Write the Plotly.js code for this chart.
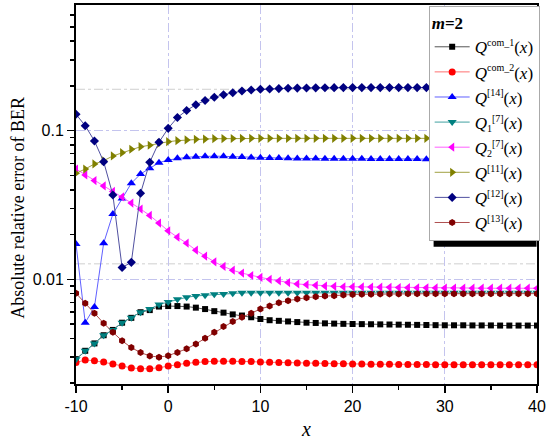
<!DOCTYPE html>
<html>
<head>
<meta charset="utf-8">
<script src="https://cdn.plot.ly/plotly-3.0.1.min.js"></script>
<style>html,body{margin:0;padding:0;background:#fff;}#chart{width:550px;height:442px;}</style>
</head>
<body>
<div id="chart"></div>
<script>
// x values -10 .. 40 step 1
var xs = [];
for (var i = -10; i <= 40; i++) xs.push(i);

var qCom1 = [0.0029,0.0033,0.0037,0.0042,0.00456,0.0051,0.0055,0.0060,0.0062,0.00655,
  0.0066,0.0066,0.00655,0.00644,0.0063,0.0061,0.00596,0.0058,0.0057,0.00555,
  0.0054,0.0053,0.00525,0.0052,0.00515,0.0051,0.00508,0.00505,0.00503,0.00501,
  0.0050,0.00499,0.00498,0.00497,0.00496,0.00495,0.00494,0.00493,0.00492,0.00491,
  0.0049,0.0049,0.0049,0.00489,0.00489,0.00489,0.00488,0.00488,0.00488,0.00488,0.00488];

var qCom2 = [0.00275,0.00286,0.00283,0.00277,0.00269,0.00261,0.00253,0.0025,0.0025,0.00254,
  0.00261,0.00266,0.00272,0.00276,0.0028,0.00281,0.00281,0.00281,0.0028,0.00279,
  0.00277,0.00276,0.00275,0.00274,0.00273,0.00272,0.00272,0.00271,0.0027,0.0027,
  0.00269,0.00269,0.00268,0.00268,0.00268,0.00267,0.00267,0.00267,0.00267,0.00266,
  0.00266,0.00266,0.00266,0.00266,0.00266,0.00266,0.00266,0.00266,0.00266,0.00266,0.00266];

var q14 = [0.0173,0.0051,0.0065,0.0175,0.0275,0.0349,0.0443,0.0511,0.0558,0.0609,
  0.0635,0.0652,0.0662,0.0668,0.0672,0.0674,0.0672,0.0668,0.0665,0.0661,
  0.0658,0.0656,0.0654,0.0652,0.0651,0.065,0.0649,0.0648,0.0648,0.0648,
  0.0647,0.0647,0.0646,0.0646,0.0645,0.0645,0.0644,0.0644,0.0643,0.0643,
  0.0642,0.0642,0.0642,0.0642,0.0642,0.0642,0.0642,0.0642,0.0642,0.0642,0.0642];

var q1_7 = [0.0029,0.0033,0.0037,0.0042,0.00456,0.0051,0.0055,0.0060,0.0063,0.00675,
  0.00703,0.00733,0.00756,0.00772,0.0078,0.00792,0.00796,0.00805,0.0081,0.0081,
  0.0081,0.0081,0.0081,0.0081,0.0081,0.0081,0.0081,0.0081,0.0081,0.0081,
  0.0081,0.0081,0.0081,0.0081,0.0081,0.0081,0.0081,0.0081,0.0081,0.0081,
  0.0081,0.0081,0.0081,0.0081,0.0081,0.0081,0.0081,0.0081,0.0081,0.0081,0.0081];

var q2_7 = [0.0552,0.0504,0.0462,0.0425,0.039,0.0358,0.0326,0.0297,0.0269,0.0239,
  0.0212,0.0192,0.0175,0.0157,0.0143,0.0131,0.0122,0.0115,0.011,0.0106,
  0.0103,0.01,0.00975,0.0095,0.0093,0.0092,0.0091,0.009,0.00897,0.0089,
  0.0089,0.00888,0.00886,0.00884,0.00882,0.0088,0.00878,0.00876,0.00875,0.00874,
  0.00873,0.00872,0.00871,0.0087,0.0087,0.0087,0.0087,0.0087,0.0087,0.0087,0.0087];

var q11 = [0.0517,0.0552,0.0597,0.0628,0.0676,0.0711,0.075,0.078,0.0798,0.0823,
  0.0843,0.0857,0.0866,0.0875,0.0879,0.0883,0.0885,0.0886,0.0887,0.0888,
  0.0888,0.0888,0.0888,0.0888,0.0888,0.0888,0.0888,0.0888,0.0888,0.0888,
  0.0888,0.0888,0.0888,0.0888,0.0888,0.0888,0.0888,0.0888,0.0888,0.0888,
  0.0888,0.0888,0.0888,0.0888,0.0888,0.0888,0.0888,0.0888,0.0888,0.0888,0.0888];

var q12 = [0.129,0.108,0.0853,0.0618,0.0369,0.012,0.013,0.0379,0.0613,0.0836,
  0.1037,0.1227,0.1368,0.1496,0.1596,0.168,0.1746,0.180,0.185,0.188,
  0.190,0.191,0.192,0.193,0.1935,0.194,0.1943,0.1946,0.1948,0.195,
  0.195,0.195,0.195,0.195,0.195,0.195,0.195,0.195,0.195,0.195,
  0.195,0.195,0.195,0.195,0.195,0.195,0.195,0.195,0.195,0.195,0.195];

var q13 = [0.00805,0.00689,0.0059,0.00506,0.0044,0.00385,0.00347,0.00321,0.00305,0.00299,
  0.00306,0.00321,0.0034,0.00367,0.00401,0.0044,0.0048,0.00519,0.00555,0.0059,
  0.0063,0.0066,0.00696,0.00718,0.00737,0.00752,0.00762,0.0077,0.00775,0.00784,
  0.0079,0.00792,0.00794,0.00795,0.00796,0.00797,0.00798,0.00798,0.00799,0.00799,
  0.008,0.008,0.008,0.008,0.008,0.008,0.008,0.008,0.008,0.008,0.008];

function sup(t) { return '<sup><span style="font-size:10px">' + t + '</span></sup>'; }
function sub(t) { return '<sub><span style="font-size:10px">' + t + '</span></sub>'; }
var seriesNames = [
  '<i>Q</i>' + sup('com_1') + '(<i>x</i>)',
  '<i>Q</i>' + sup('com_2') + '(<i>x</i>)',
  '<i>Q</i>' + sup('[14]') + '(<i>x</i>)',
  '<i>Q</i>' + sub('1') + sup('[7]') + '(<i>x</i>)',
  '<i>Q</i>' + sub('2') + sup('[7]') + '(<i>x</i>)',
  '<i>Q</i>' + sup('[11]') + '(<i>x</i>)',
  '<i>Q</i>' + sup('[12]') + '(<i>x</i>)',
  '<i>Q</i>' + sup('[13]') + '(<i>x</i>)'
];
var seriesData = [qCom1, qCom2, q14, q1_7, q2_7, q11, q12, q13];
var markerColors = ['#000000','#ff0000','#0000ff','#008080','#ff00ff','#808000','#000080','#800000'];
var lineColors = ['#555555','#ff7070','#6060ff','#40a0a0','#ff60ff','#a0a040','#5050a0','#b05050'];
var symbols = ['square','circle','triangle-up','triangle-down','triangle-left','triangle-right','diamond','hexagon'];
var sizes = [6,7,8,8,8,8,7,7];

var xTickVals = [-10, 0, 10, 20, 30, 40];
var xTickText = ['-10', '0', '10', '20', '30', '40'];
var yTickVals = [0.01, 0.1];
var yTickText = ['0.01', '0.1'];
var yMinorVals = [0.002,0.003,0.004,0.005,0.006,0.007,0.008,0.009,0.02,0.03,0.04,0.05,0.06,0.07,0.08,0.09,0.2,0.3,0.4,0.5,0.6];
var refLines = [0.19, 0.0127];

var traces = seriesData.map(function (d, k) {
  return {
    x: xs, y: d, name: seriesNames[k], type: 'scatter', mode: 'lines+markers',
    line: {color: lineColors[k], width: 1},
    marker: {symbol: symbols[k], size: sizes[k], color: markerColors[k], line: {width: 0}}
  };
});

var shapes = refLines.map(function (v) {
  return {type: 'line', xref: 'paper', x0: 0, x1: 1, yref: 'y', y0: v, y1: v,
    line: {color: '#cfcfcf', width: 1, dash: 'dashdot'}, layer: 'below'};
});
// legend shadow (paper coords: plot area 76..537.5 x, 5..384 y)
shapes.push({type: 'rect', xref: 'paper', yref: 'paper', x0: 0.7757, x1: 0.999, y0: 0.362, y1: 0.984,
  fillcolor: '#000000', line: {width: 0}, layer: 'above'});

var layout = {
  width: 550, height: 442,
  margin: {l: 76, r: 12.5, t: 5, b: 58},
  paper_bgcolor: '#ffffff', plot_bgcolor: '#ffffff',
  showlegend: true,
  xaxis: {
    range: [-10, 40], tickmode: 'array', tickvals: xTickVals, ticktext: xTickText,
    ticks: 'outside', ticklen: 7, tickwidth: 1.5, tickcolor: '#000',
    minor: {dtick: 5, tick0: 0, ticks: 'outside', ticklen: 4, tickwidth: 1.5, tickcolor: '#000', showgrid: false},
    showline: true, linecolor: '#000', linewidth: 2, mirror: true,
    showgrid: true, gridcolor: '#c4c4ee', griddash: 'dashdot', gridwidth: 1,
    zeroline: false,
    tickfont: {family: 'Liberation Sans, Arial, sans-serif', size: 16, color: '#000'},
    title: {text: '<i>x</i>', font: {family: 'Liberation Serif, Times New Roman, serif', size: 20, color: '#000'}, standoff: 8}
  },
  yaxis: {
    type: 'log', range: [-2.705, -0.154],
    tickmode: 'array', tickvals: yTickVals, ticktext: yTickText,
    ticks: 'outside', ticklen: 7, tickwidth: 1.5, tickcolor: '#000',
    minor: {tickmode: 'array', tickvals: yMinorVals, ticks: 'outside', ticklen: 4, tickwidth: 1.5, tickcolor: '#000', showgrid: false},
    showline: true, linecolor: '#000', linewidth: 2, mirror: true,
    showgrid: true, gridcolor: '#c4c4ee', griddash: 'dashdot', gridwidth: 1,
    zeroline: false,
    tickfont: {family: 'Liberation Sans, Arial, sans-serif', size: 16, color: '#000'}
  },
  annotations: [{
    text: 'Absolute relative error of BER', textangle: -90,
    xref: 'paper', yref: 'paper', x: -0.1257, y: 0.465, xanchor: 'center', yanchor: 'middle',
    showarrow: false, font: {family: 'Liberation Serif, Times New Roman, serif', size: 18, color: '#000'}
  }],
  legend: {
    x: 0.765, y: 0.997, xanchor: 'left', yanchor: 'top',
    bgcolor: '#ffffff', bordercolor: '#aaaaaa', borderwidth: 1,
    font: {family: 'Liberation Serif, Times New Roman, serif', size: 17, color: '#000'},
    itemwidth: 35, tracegroupgap: 0,
    title: {text: '<b><i>m</i>=2</b>', font: {family: 'Liberation Serif, Times New Roman, serif', size: 17, color: '#000'}}
  },
  shapes: shapes
};

Plotly.newPlot('chart', traces, layout, {displayModeBar: false, staticPlot: true});
</script>
</body>
</html>
